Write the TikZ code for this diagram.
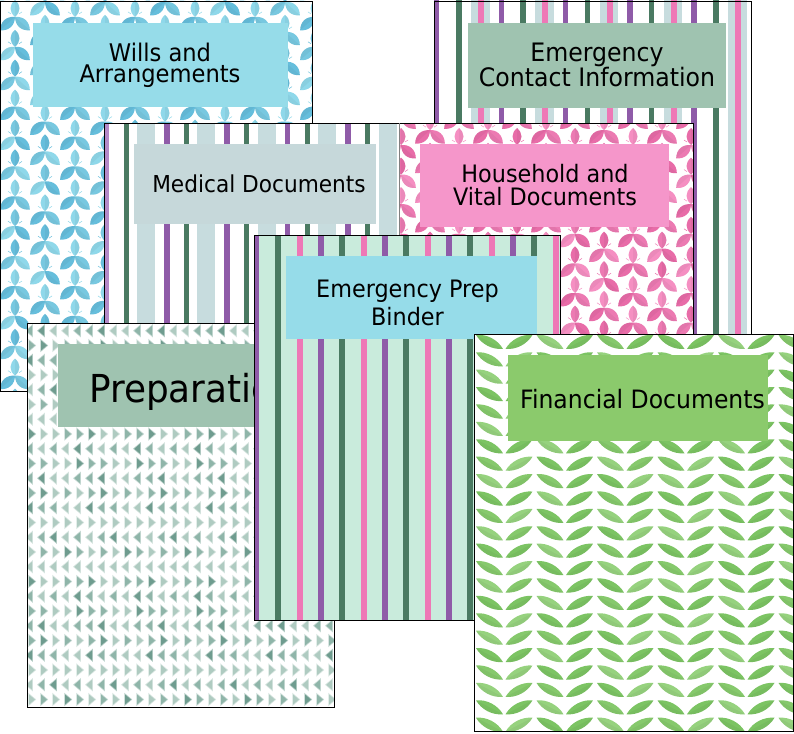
\documentclass[tikz,border=0pt]{standalone}
\usepackage{fontspec}
\setmainfont[FakeStretch=0.93]{DejaVu Sans}
\definecolor{blueLab}{HTML}{96DCE9}
\definecolor{tealLab}{HTML}{9FC3B0}
\definecolor{grayLab}{HTML}{C6D8DA}
\definecolor{pinkLab}{HTML}{F596CA}
\definecolor{greenLab}{HTML}{8BCA6C}
\definecolor{mintBg}{HTML}{C9EBDC}
\definecolor{stPurple}{HTML}{8F5BA8}
\definecolor{stPurpleL}{HTML}{B48AC8}
\definecolor{stGreen}{HTML}{4A7A62}
\definecolor{stPink}{HTML}{EE78B6}
\definecolor{stGray}{HTML}{C7DCDE}
\definecolor{bA}{HTML}{66BEDC}
\definecolor{bB}{HTML}{8FD8EA}
\definecolor{bC}{HTML}{78C8E0}
\definecolor{pA}{HTML}{E86CA8}
\definecolor{pB}{HTML}{F58FC2}
\definecolor{pC}{HTML}{EC7AB2}
\definecolor{wA}{HTML}{6F9C8F}
\definecolor{wB}{HTML}{8FB5A9}
\definecolor{wC}{HTML}{AFCBC1}
\definecolor{lA}{HTML}{7CC463}
\definecolor{lB}{HTML}{96D27E}
\definecolor{lC}{HTML}{86C96C}
% lens-shaped petal: #1 x, #2 y, #3 screen angle, #4 length, #5 bulge, #6 colour
\newcommand{\lensat}[6]{%
  \begin{scope}[shift={(#1,#2)},rotate=#3]
    \fill[#6] (0,0) .. controls (0.3*#4,#5) and (0.7*#4,#5) .. (#4,0)
              .. controls (0.7*#4,-#5) and (0.3*#4,-#5) .. (0,0);
    \fill[black,opacity=0.04] (0,0) .. controls (0.3*#4,#5) and (0.7*#4,#5) .. (#4,0) -- cycle;
  \end{scope}}
% three-petal motif: #1 x, #2 y, #3 #4 #5 colours
\newcommand{\trefoil}[5]{%
  \lensat{#1}{#2}{90}{17}{6}{#3}%
  \lensat{#1}{#2}{-42}{20}{6.4}{#4}%
  \lensat{#1}{#2}{-138}{20}{6.4}{#5}%
  \draw[#3,line width=0.5] (#1-4,#2-3) -- (#1-7,#2-5) (#1+4,#2-3) -- (#1+7,#2-5);}
% trefoil field: #1 first col x, #2 col pitch, #3 first y, #4 y pitch, #5 #6 #7 tones, #8 last col, #9 last row
\newcommand{\trefoilfield}[9]{%
  \foreach \i in {0,...,#8}{\foreach \k in {0,...,#9}{%
    \pgfmathsetmacro{\cx}{#1+#2*\i}%
    \pgfmathsetmacro{\cy}{#3+#4*\k+(mod(\i,2)==1?(#4/2):0)}%
    \pgfmathtruncatemacro{\tone}{mod(2*\i+\k+\i*\k,3)}%
    \ifcase\tone
      \trefoil{\cx}{\cy}{#5}{#6}{#7}\or
      \trefoil{\cx}{\cy}{#6}{#7}{#5}\or
      \trefoil{\cx}{\cy}{#7}{#5}{#6}\fi
  }}}
% vertical stripes: repeated set
\newcommand{\stripe}[3]{\fill[#3] (#1,-5) rectangle (#2,760);}
% soft wave triangles: #1 x, #2 y, #3 direction (1 right, -1 left), #4 colour
\newcommand{\softtri}[4]{%
  \fill[#4!50!white] ({#1-(#3)*3.9},{#2-6.6}) -- ({#1+(#3)*3.9},{#2}) -- ({#1-(#3)*3.9},{#2+6.6}) -- cycle;
  \fill[#4] ({#1-(#3)*3.2},{#2-5}) -- ({#1+(#3)*2.6},{#2}) -- ({#1-(#3)*3.2},{#2+5}) -- cycle;}
\tikzset{
  lab/.style={draw=none,inner sep=0pt,anchor=north west},
  txt/.style={inner sep=0pt,align=center,text=black},
  pageedge/.style={draw=black,line width=0.9pt}
}
\begin{document}
\begin{tikzpicture}[x=1pt,y=-1pt]
\useasboundingbox (0,0) rectangle (794,733);
\fill[white] (0,0) rectangle (794,733);

% ===== Wills page =====
\begin{scope}
\clip (0,1) rectangle (312,391);
\trefoilfield{15}{30}{-13}{29.9}{bA}{bB}{bC}{10}{14}
\end{scope}
\draw[pageedge] (0,1) rectangle (312,391);
\node[lab,fill=blueLab,minimum width=255pt,minimum height=84pt] (willsbox) at (33,22.7) {};
\node[txt,font=\fontsize{24.3}{21}\selectfont] (willstext) at (160,65) {Wills and\hspace{6pt}\\Arrangements};

% ===== Emergency contact page =====
\begin{scope}
\clip (434,1) rectangle (751,345);
\fill[white] (434,1) rectangle (751,345);
\stripe{433.5}{439}{stPurple}
\foreach \d in {0,64.3,128.6,192.9,257.2}{
  \stripe{456+\d}{461.5+\d}{stGreen}
  \stripe{471+\d}{489.5+\d}{stGray}
  \stripe{478+\d}{484+\d}{stPink}
}
\foreach \d in {0,64.3,128.6,192.9}{\stripe{498.5+\d}{504+\d}{stPurple}}
\end{scope}
\draw[pageedge] (434,1) rectangle (751,345);
\node[lab,fill=tealLab,minimum width=258pt,minimum height=85pt] (contactbox) at (467.7,22.7) {};
\node[txt,font=\fontsize{25.4}{25}\selectfont] (contacttext) at (597,65) {Emergency\\Contact Information};

% ===== Medical page =====
\begin{scope}
\clip (104,123) rectangle (420,330);
\fill[white] (104,123) rectangle (420,330);
\stripe{104}{108.5}{stPurpleL}
\foreach \d in {0,60.4,120.8,181.2,241.6}{
  \stripe{123.5+\d}{128.5+\d}{stGreen}
  \stripe{137+\d}{155+\d}{stGray}
  \stripe{164+\d}{169.5+\d}{stPurple}
}
\end{scope}
\draw[pageedge] (104,123) rectangle (420,330);
\node[lab,fill=grayLab,minimum width=242pt,minimum height=80pt] (medbox) at (134,143.3) {};
\node[txt,font=\fontsize{23.3}{24}\selectfont] (medtext) at (259,184) {Medical Documents};

% ===== Household page =====
\begin{scope}
\clip (400,123) rectangle (693.5,345);
\fill[white] (400,123) rectangle (693.5,345);
\trefoilfield{401}{29}{-3}{29.6}{pA}{pB}{pC}{10}{12}
\end{scope}
\draw[pageedge] (400,123) -- (693.5,123) -- (693.5,345);
\draw[gray,line width=0.6pt] (399.7,123) -- (399.7,345);
\node[lab,fill=pinkLab,minimum width=249pt,minimum height=83pt] (housebox) at (420,143.5) {};
\node[txt,font=\fontsize{24}{23}\selectfont] (housetext) at (545,185) {Household and\\Vital Documents};

% ===== Preparation page =====
\begin{scope}
\clip (27,323.3) rectangle (334.3,707.7);
\fill[white] (27,323.3) rectangle (334.3,707.7);
\foreach \i in {0,...,27}{\foreach \k in {0,...,14}{
  \pgfmathsetmacro{\rx}{20.3+12*\i}
  \pgfmathsetmacro{\ry}{316+29.5*\k}
  \pgfmathsetmacro{\lx}{\rx-3.4}
  \pgfmathsetmacro{\ly}{\ry+14.75}
  \pgfmathtruncatemacro{\toneA}{mod(3*\i+2*\k+\i*\k,5)}
  \pgfmathtruncatemacro{\toneB}{mod(2*\i+\k+\i*\k+1,5)}
  \ifcase\toneA\def\cola{wA}\or\def\cola{wB}\or\def\cola{wC}\or\def\cola{wB}\or\def\cola{wC}\fi
  \ifcase\toneB\def\colb{wA}\or\def\colb{wB}\or\def\colb{wC}\or\def\colb{wB}\or\def\colb{wC}\fi
  \softtri{\rx}{\ry}{1}{\cola}
  \softtri{\lx}{\ly}{-1}{\colb}
}}
\end{scope}
\draw[pageedge] (27,323.3) rectangle (334.3,707.7);
\node[lab,fill=tealLab,minimum width=255pt,minimum height=82.5pt] (prepbox) at (58,344) {};
\node[txt,anchor=base west,font=\fontsize{38.5}{38}\selectfont] (preptext) at (89,402) {Preparation};

% ===== Emergency Prep page =====
\begin{scope}
\clip (254,235.5) rectangle (560.5,620);
\fill[mintBg] (254,235.5) rectangle (560.5,620);
\stripe{254}{258.5}{stPurple}
\foreach \d in {0,64,128,192,256}{
  \stripe{275+\d}{281+\d}{stGreen}
  \stripe{297+\d}{303+\d}{stPink}
}
\foreach \d in {0,64,128,192}{\stripe{318+\d}{323.5+\d}{stPurple}}
\end{scope}
\draw[pageedge] (254,235.5) rectangle (560.5,620);
\node[lab,fill=blueLab,minimum width=251pt,minimum height=83pt] (bindbox) at (285.7,256) {};
\node[txt,font=\fontsize{24}{28}\selectfont] (bindtext) at (407.5,303) {Emergency Prep\\Binder};

% ===== Financial page =====
\begin{scope}
\clip (474,334) rectangle (793,731);
\fill[white] (474,334) rectangle (793,731);
\foreach \i in {-1,...,5}{\foreach \k in {-18,...,6}{
  \pgfmathsetmacro{\lfx}{476+60.5*\i}
  \pgfmathsetmacro{\lfy}{630.7+17.4*\k}
  \pgfmathsetmacro{\rfx}{\lfx+29.5}
  \pgfmathsetmacro{\rfy}{\lfy+14}
  \pgfmathtruncatemacro{\toneA}{mod(\i+7+2*\k+36,3)}
  \pgfmathtruncatemacro{\toneB}{mod(2*\i+9+\k+18+(\i+1)*(\k+18),3)}
  \ifcase\toneA\def\cola{lA}\or\def\cola{lB}\or\def\cola{lC}\fi
  \ifcase\toneB\def\colb{lC}\or\def\colb{lB}\or\def\colb{lA}\fi
  \lensat{\lfx}{\lfy}{-27.4}{30.4}{5.8}{\cola}
  \lensat{\rfx}{\rfy}{27.4}{30.4}{5.8}{\colb}
}}
\end{scope}
\draw[pageedge] (474,334) rectangle (793,731);
\node[lab,fill=greenLab,minimum width=260pt,minimum height=86pt] (finbox) at (507.7,355) {};
\node[txt,font=\fontsize{25.3}{25}\selectfont] (fintext) at (642.5,399) {Financial Documents};
\end{tikzpicture}
\end{document}
